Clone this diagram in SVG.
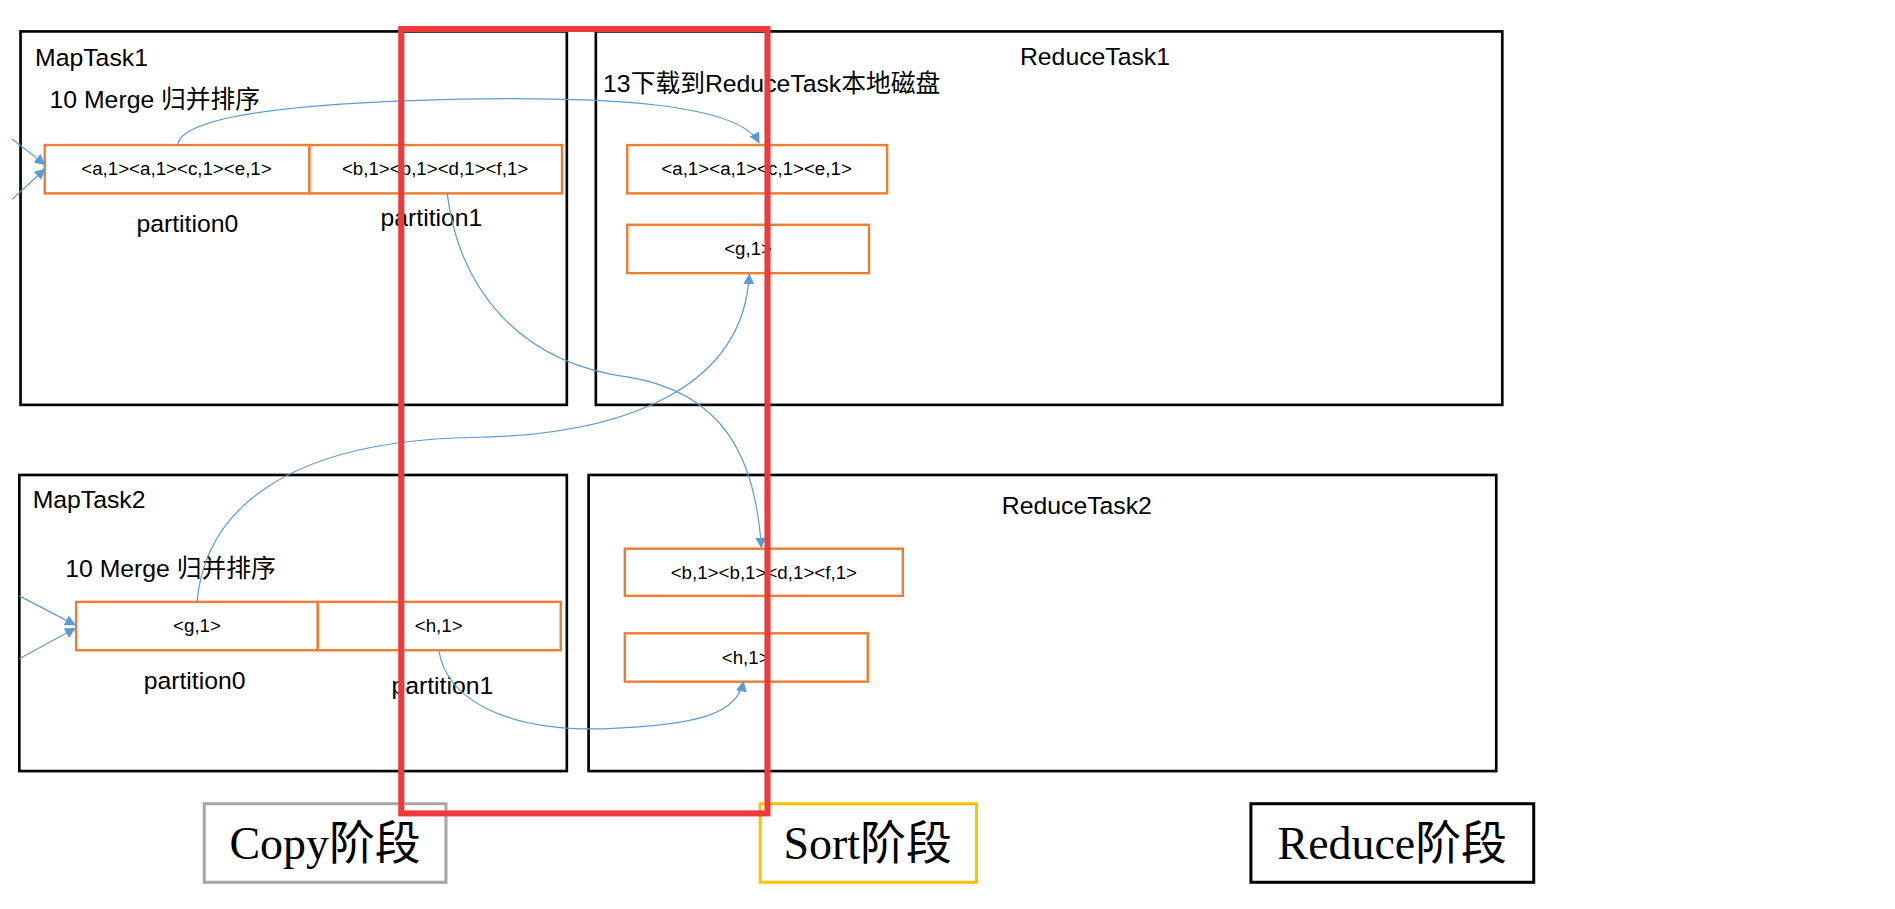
<svg xmlns="http://www.w3.org/2000/svg" width="1895" height="909" viewBox="0 0 1895 909">
<style>
.box{fill:none;stroke:#000;stroke-width:2.2}
.cell{fill:#fff;stroke:#ed7d31;stroke-width:2}
.t{font-family:"Liberation Sans","Noto Sans CJK SC",sans-serif;fill:#000}
.s{font-size:15.5px}
.m{font-size:20.5px}
.big{font-family:"Liberation Serif","Noto Sans CJK SC",serif;font-size:38px}
.c{fill:none;stroke:#5b9bd5;stroke-width:1}
</style>
<defs><marker id="a" viewBox="0 0 10 10" refX="9" refY="5" markerWidth="9" markerHeight="9" orient="auto" markerUnits="userSpaceOnUse"><path d="M0,0L10,5L0,10z" fill="#5b9bd5"/></marker></defs>
<rect width="1895" height="909" fill="#fff"/>
<g transform="scale(1.2086)">
<g id="maptask1"><rect class="box" x="17" y="26" width="452" height="309"/><text class="t m" x="29" y="55">MapTask1</text><text class="t m" x="41" y="89">10 Merge 归并排序</text>
<rect class="cell" x="37" y="120" width="219" height="40"/><rect class="cell" x="256" y="120" width="209" height="40"/>
<text class="t s" x="146" y="145" text-anchor="middle">&lt;a,1&gt;&lt;a,1&gt;&lt;c,1&gt;&lt;e,1&gt;</text><text class="t s" x="360" y="145" text-anchor="middle">&lt;b,1&gt;&lt;b,1&gt;&lt;d,1&gt;&lt;f,1&gt;</text>
<text class="t m" x="155" y="192" text-anchor="middle">partition0</text><text class="t m" x="357" y="187" text-anchor="middle">partition1</text></g>
<g id="reducetask1"><rect class="box" x="493" y="26" width="750" height="309"/><text class="t m" x="906" y="54" text-anchor="middle">ReduceTask1</text><text class="t m" x="499" y="76">13下载到ReduceTask本地磁盘</text>
<rect class="cell" x="519" y="120" width="215" height="40"/><text class="t s" x="626" y="145" text-anchor="middle">&lt;a,1&gt;&lt;a,1&gt;&lt;c,1&gt;&lt;e,1&gt;</text>
<rect class="cell" x="519" y="186" width="200" height="40"/><text class="t s" x="619" y="211" text-anchor="middle">&lt;g,1&gt;</text></g>
<g id="maptask2"><rect class="box" x="16" y="393" width="453" height="245"/><text class="t m" x="27" y="420">MapTask2</text><text class="t m" x="54" y="477">10 Merge 归并排序</text>
<rect class="cell" x="63" y="498" width="200" height="40"/><rect class="cell" x="263" y="498" width="201" height="40"/>
<text class="t s" x="163" y="523" text-anchor="middle">&lt;g,1&gt;</text><text class="t s" x="363" y="523" text-anchor="middle">&lt;h,1&gt;</text>
<text class="t m" x="161" y="570" text-anchor="middle">partition0</text><text class="t m" x="366" y="574" text-anchor="middle">partition1</text></g>
<g id="reducetask2"><rect class="box" x="487" y="393" width="751" height="245"/><text class="t m" x="891" y="425" text-anchor="middle">ReduceTask2</text>
<rect class="cell" x="517" y="454" width="230" height="39"/><text class="t s" x="632" y="479" text-anchor="middle">&lt;b,1&gt;&lt;b,1&gt;&lt;d,1&gt;&lt;f,1&gt;</text>
<rect class="cell" x="517" y="524" width="201" height="40"/><text class="t s" x="617" y="549" text-anchor="middle">&lt;h,1&gt;</text></g>
<g id="copy"><rect x="169" y="665" width="200" height="65" fill="none" stroke="#a6a6a6" stroke-width="2.5"/><text class="t big" x="269" y="711" text-anchor="middle">Copy阶段</text></g>
<g id="sort"><rect x="629" y="665" width="179" height="65" fill="none" stroke="#ffc000" stroke-width="2.5"/><text class="t big" x="718" y="711" text-anchor="middle">Sort阶段</text></g>
<g id="reduce"><rect x="1035" y="665" width="234" height="65" fill="none" stroke="#000" stroke-width="2.5"/><text class="t big" x="1152" y="711" text-anchor="middle">Reduce阶段</text></g>
<g id="connectors">
<path class="c" d="M10,115L37,136" marker-end="url(#a)"/><path class="c" d="M10,165L37,140" marker-end="url(#a)"/>
<path class="c" d="M16,493L62,517" marker-end="url(#a)"/><path class="c" d="M16,545L62,520" marker-end="url(#a)"/>
<path class="c" d="M147,120C150,95 250,85 380,82C500,80 610,85 628,118" marker-end="url(#a)"/>
<path class="c" d="M370,160C380,240 430,300 520,312C600,325 625,380 630,453" marker-end="url(#a)"/>
<path class="c" d="M163,498C170,420 240,365 390,362C520,360 615,320 620,227" marker-end="url(#a)"/>
<path class="c" d="M363,538C370,580 420,605 500,603C580,600 610,590 615,564" marker-end="url(#a)"/>
</g>
<rect x="332" y="24" width="303" height="649" fill="none" stroke="#f03a3a" stroke-width="5"/>
</g>
</svg>
